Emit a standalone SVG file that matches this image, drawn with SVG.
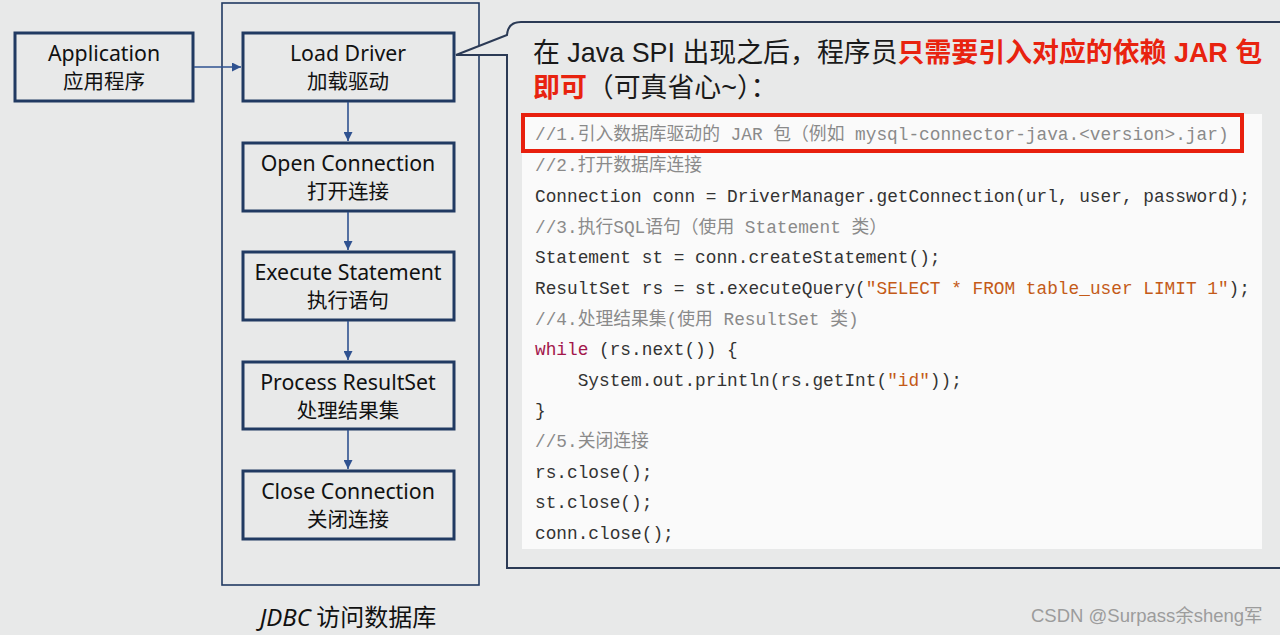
<svg xmlns="http://www.w3.org/2000/svg" width="1280" height="635" viewBox="0 0 1280 635">
<defs>
<style>
.node{fill:#e8e9e9;stroke:#213a62;stroke-width:3}
.lbl{font-family:"Noto Sans","Noto Sans CJK SC",sans-serif;font-size:21.3px;fill:#111;text-anchor:middle}
.cn{font-family:"Noto Sans CJK SC",sans-serif;font-size:20.5px;fill:#111;text-anchor:middle}
.conn{stroke:#2f5290;stroke-width:1.6;fill:none}
.code{font-family:"Liberation Mono","Noto Sans CJK SC",monospace;font-size:17.8px;fill:#333}
.cm{fill:#8a8a8a}
.str{fill:#c45a18}
.kw{fill:#a3164a}
.hd{font-family:"Liberation Sans","Noto Sans CJK SC",sans-serif;font-size:26.9px;fill:#1a1a1a}
.red{fill:#e8230f;font-weight:bold}
</style>
<marker id="ah" viewBox="0 0 10 10" refX="10" refY="5" markerWidth="9" markerHeight="9" markerUnits="userSpaceOnUse" orient="auto">
<path d="M0,0 L10,5 L0,10 Z" fill="#2f5290"/>
</marker>
</defs>
<rect x="0" y="0" width="1280" height="635" fill="#e8e9e9"/>

<g id="container">
<rect x="222" y="3" width="257" height="582" fill="none" stroke="#213a62" stroke-width="1.6"/>
<text x="348" y="626" font-family="Noto Sans CJK SC,sans-serif" font-size="24" fill="#111" text-anchor="middle"><tspan font-style="italic" font-family="Noto Sans, sans-serif">JDBC</tspan> 访问数据库</text>
</g>

<g id="callout">
<path d="M456 55 L507 35 Q508 22 521 22 L1290 22 L1290 568 L507 568 L507 55 Z" fill="#e8e9e9" stroke="#2b3a55" stroke-width="2"/>
<text class="hd" x="533" y="62">在 Java SPI 出现之后，程序员<tspan class="red">只需要引入对应的依赖 JAR 包</tspan></text>
<text class="hd" x="533" y="97"><tspan class="red">即可</tspan>（可真省心~）：</text>
<rect x="522" y="114" width="740" height="435" fill="#fafafa"/>
<rect x="523" y="115" width="719" height="36" fill="none" stroke="#e8200e" stroke-width="4"/>
<text class="code cm" x="535" y="140">//1.引入数据库驱动的 JAR 包（例如 mysql-connector-java.&lt;version&gt;.jar)</text>
<text class="code cm" x="535" y="171">//2.打开数据库连接</text>
<text class="code" x="535" y="202">Connection conn = DriverManager.getConnection(url, user, password);</text>
<text class="code cm" x="535" y="233">//3.执行SQL语句（使用 Statement 类）</text>
<text class="code" x="535" y="263">Statement st = conn.createStatement();</text>
<text class="code" x="535" y="294">ResultSet rs = st.executeQuery(<tspan class="str">"SELECT * FROM table_user LIMIT 1"</tspan>);</text>
<text class="code cm" x="535" y="325">//4.处理结果集(使用 ResultSet 类)</text>
<text class="code" x="535" y="355"><tspan class="kw">while</tspan> (rs.next()) {</text>
<text class="code" x="535" y="386" xml:space="preserve">    System.out.println(rs.getInt(<tspan class="str">"id"</tspan>));</text>
<text class="code" x="535" y="416">}</text>
<text class="code cm" x="535" y="447">//5.关闭连接</text>
<text class="code" x="535" y="478">rs.close();</text>
<text class="code" x="535" y="508">st.close();</text>
<text class="code" x="535" y="539">conn.close();</text>
</g>

<g id="app">
<rect class="node" x="15" y="33" width="178" height="68"/>
<text class="lbl" x="104" y="61">Application</text>
<text class="cn" x="104" y="89">应用程序</text>
</g>
<g id="load">
<rect class="node" x="243" y="33" width="211" height="68"/>
<text class="lbl" x="348" y="61">Load Driver</text>
<text class="cn" x="348" y="89">加载驱动</text>
</g>
<g id="open">
<rect class="node" x="243" y="143" width="211" height="68"/>
<text class="lbl" x="348" y="171">Open Connection</text>
<text class="cn" x="348" y="199">打开连接</text>
</g>
<g id="exec">
<rect class="node" x="243" y="252" width="211" height="68"/>
<text class="lbl" x="348" y="280">Execute Statement</text>
<text class="cn" x="348" y="308">执行语句</text>
</g>
<g id="process">
<rect class="node" x="243" y="362" width="211" height="67"/>
<text class="lbl" x="348" y="390">Process ResultSet</text>
<text class="cn" x="348" y="418">处理结果集</text>
</g>
<g id="close">
<rect class="node" x="243" y="471" width="211" height="68"/>
<text class="lbl" x="348" y="499">Close Connection</text>
<text class="cn" x="348" y="527">关闭连接</text>
</g>

<g id="connectors">
<line class="conn" x1="194" y1="67" x2="241" y2="67" marker-end="url(#ah)"/>
<line class="conn" x1="348" y1="102" x2="348" y2="141" marker-end="url(#ah)"/>
<line class="conn" x1="348" y1="212" x2="348" y2="250" marker-end="url(#ah)"/>
<line class="conn" x1="348" y1="321" x2="348" y2="360" marker-end="url(#ah)"/>
<line class="conn" x1="348" y1="430" x2="348" y2="469" marker-end="url(#ah)"/>
</g>

<text x="1031" y="622" font-family="Liberation Sans,Noto Sans CJK SC,sans-serif" font-size="18.5" fill="#9c9c9c">CSDN @Surpass余sheng军</text>
</svg>
